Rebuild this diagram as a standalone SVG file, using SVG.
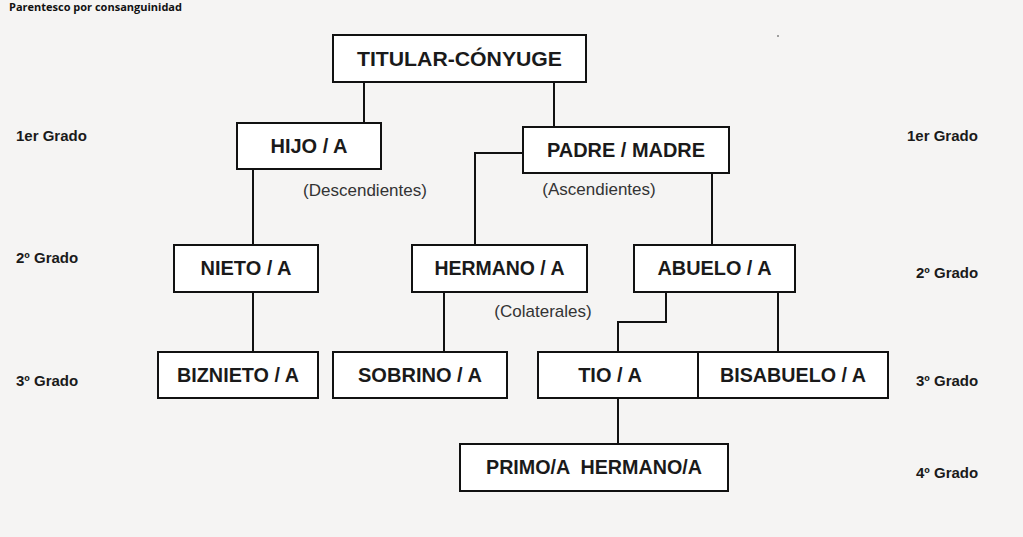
<svg xmlns="http://www.w3.org/2000/svg" width="1023" height="537" viewBox="0 0 1023 537">
<style>
.b{fill:#fff;stroke:#111;stroke-width:2}
.n{font-family:"Liberation Sans",Arial,sans-serif;font-weight:bold;font-size:20px;fill:#1a1a1a;text-anchor:middle}
.g{font-family:"Liberation Sans",Arial,sans-serif;font-weight:bold;font-size:15px;fill:#1a1a1a}
.p{font-family:"Liberation Sans",Arial,sans-serif;font-size:17px;fill:#333;text-anchor:middle}
#conn path{fill:none;stroke:#111;stroke-width:2}
</style>
<rect width="1023" height="537" fill="#f5f4f3"/>
<text x="9" y="11" font-family="Open Sans,sans-serif" font-weight="bold" font-size="11" fill="#111">Parentesco por consanguinidad</text>
<circle cx="778" cy="36" r="0.8" fill="#333"/>
<g id="conn">
<path d="M364 82V123M554 82V127M253 169V245M523 153H475V245M712 173V245M253 292V352M444 292V352M666 292V322H618V352M778 292V352M618 398V444"/>
</g>
<g id="titular"><rect class="b" x="333" y="35" width="253" height="47"/><text class="n" x="459.5" y="66" textLength="205" lengthAdjust="spacingAndGlyphs">TITULAR-CÓNYUGE</text></g>
<g id="hijo"><rect class="b" x="237" y="123" width="144" height="46"/><text class="n" x="309" y="153">HIJO / A</text></g>
<g id="padre"><rect class="b" x="523" y="127" width="206" height="46"/><text class="n" x="626" y="157" textLength="158" lengthAdjust="spacingAndGlyphs">PADRE / MADRE</text></g>
<g id="nieto"><rect class="b" x="174" y="245" width="144" height="47"/><text class="n" x="246" y="275">NIETO / A</text></g>
<g id="hermano"><rect class="b" x="412" y="245" width="175" height="47"/><text class="n" x="499.5" y="275" textLength="130" lengthAdjust="spacingAndGlyphs">HERMANO / A</text></g>
<g id="abuelo"><rect class="b" x="634" y="245" width="161" height="47"/><text class="n" x="714.5" y="275" textLength="114" lengthAdjust="spacingAndGlyphs">ABUELO / A</text></g>
<g id="biznieto"><rect class="b" x="158" y="352" width="160" height="46"/><text class="n" x="238" y="382" textLength="122" lengthAdjust="spacingAndGlyphs">BIZNIETO / A</text></g>
<g id="sobrino"><rect class="b" x="333" y="352" width="174" height="46"/><text class="n" x="420" y="382" textLength="124" lengthAdjust="spacingAndGlyphs">SOBRINO / A</text></g>
<g id="tio"><rect class="b" x="538" y="352" width="160" height="46"/><text class="n" x="610" y="382">TIO / A</text></g>
<g id="bisabuelo"><rect class="b" x="698" y="352" width="190" height="46"/><text class="n" x="793" y="382" textLength="146" lengthAdjust="spacingAndGlyphs">BISABUELO / A</text></g>
<g id="primo"><rect class="b" x="460" y="444" width="268" height="47"/><text class="n" x="594" y="474" xml:space="preserve" textLength="216" lengthAdjust="spacingAndGlyphs">PRIMO/A  HERMANO/A</text></g>
<text class="p" x="365" y="196">(Descendientes)</text>
<text class="p" x="599" y="195">(Ascendientes)</text>
<text class="p" x="543" y="317">(Colaterales)</text>
<text class="g" x="16" y="141">1er Grado</text>
<text class="g" x="16" y="263">2º Grado</text>
<text class="g" x="16" y="386">3º Grado</text>
<text class="g" x="907" y="141">1er Grado</text>
<text class="g" x="916" y="278">2º Grado</text>
<text class="g" x="916" y="386">3º Grado</text>
<text class="g" x="916" y="478">4º Grado</text>
</svg>
